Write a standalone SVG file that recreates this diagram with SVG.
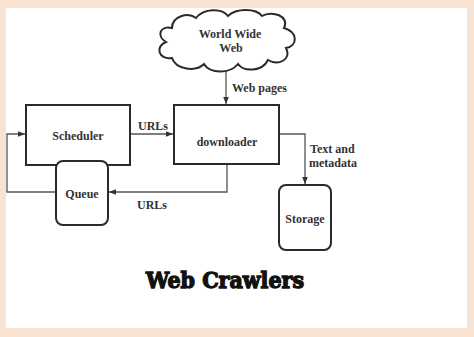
<svg xmlns="http://www.w3.org/2000/svg" width="474" height="337" viewBox="0 0 474 337">
<style>
.box{fill:#fff;stroke:#2a2a2a;stroke-width:2}
.lbl{font-family:"Liberation Serif","DejaVu Serif",serif;font-weight:bold;font-size:12px;fill:#333;text-anchor:middle}
.edge{fill:none;stroke:#555;stroke-width:1.3}
.elbl{font-family:"Liberation Serif","DejaVu Serif",serif;font-weight:bold;font-size:12px;fill:#333}
</style>
<defs>
<marker id="ah" viewBox="0 0 10 10" refX="10" refY="5" markerWidth="7" markerHeight="7" orient="auto" markerUnits="userSpaceOnUse">
<path d="M0,1 L10,5 L0,9 Z" fill="#333"/>
</marker>
</defs>
<rect x="0" y="0" width="474" height="337" fill="#f8e3d3"/>
<rect x="6" y="8" width="461" height="320" fill="#fff"/>
<g id="www">
<path class="box" d="M172,58 C158,60 155,46 166,42 C156,36 160,25 172,28 C172,16 188,12 196,18 C204,8 222,8 228,16 C236,8 256,8 262,16 C272,10 290,16 284,28 C298,32 298,46 286,48 C292,60 278,66 268,60 C262,72 244,72 238,64 C230,74 210,74 204,64 C196,72 176,70 172,58 Z"/>
<text class="lbl" x="230" y="38">World Wide</text>
<text class="lbl" x="231" y="52">Web</text>
</g>
<g id="scheduler">
<rect class="box" x="26" y="105" width="104" height="60"/>
<text class="lbl" x="78" y="140">Scheduler</text>
</g>
<g id="downloader">
<rect class="box" x="174" y="105" width="105" height="59"/>
<text class="lbl" x="227" y="146">downloader</text>
</g>
<g id="queue">
<rect class="box" x="56" y="161" width="52" height="64" rx="7"/>
<text class="lbl" x="82" y="198">Queue</text>
</g>
<g id="storage">
<rect class="box" x="279" y="185" width="52" height="65" rx="7"/>
<text class="lbl" x="305" y="223">Storage</text>
</g>
<g id="connectors">
<path class="edge" d="M226,72 V104" marker-end="url(#ah)"/>
<text class="elbl" x="232" y="92">Web pages</text>
<path class="edge" d="M131,134 H173" marker-end="url(#ah)"/>
<text class="elbl" x="153" y="130" text-anchor="middle">URLs</text>
<path class="edge" d="M227,165 V192 H109" marker-end="url(#ah)"/>
<text class="elbl" x="152" y="209" text-anchor="middle">URLs</text>
<path class="edge" d="M55,192 H7 V134 H25" marker-end="url(#ah)"/>
<path class="edge" d="M280,134 H305 V184" marker-end="url(#ah)"/>
<text class="elbl" x="310" y="153">Text and</text>
<text class="elbl" x="309" y="167">metadata</text>
</g>
<text x="225" y="288" text-anchor="middle" font-family="'DejaVu Serif',serif" font-weight="900" font-size="22" fill="#111" stroke="#111" stroke-width="1.3" textLength="158" lengthAdjust="spacingAndGlyphs">Web Crawlers</text>
</svg>
